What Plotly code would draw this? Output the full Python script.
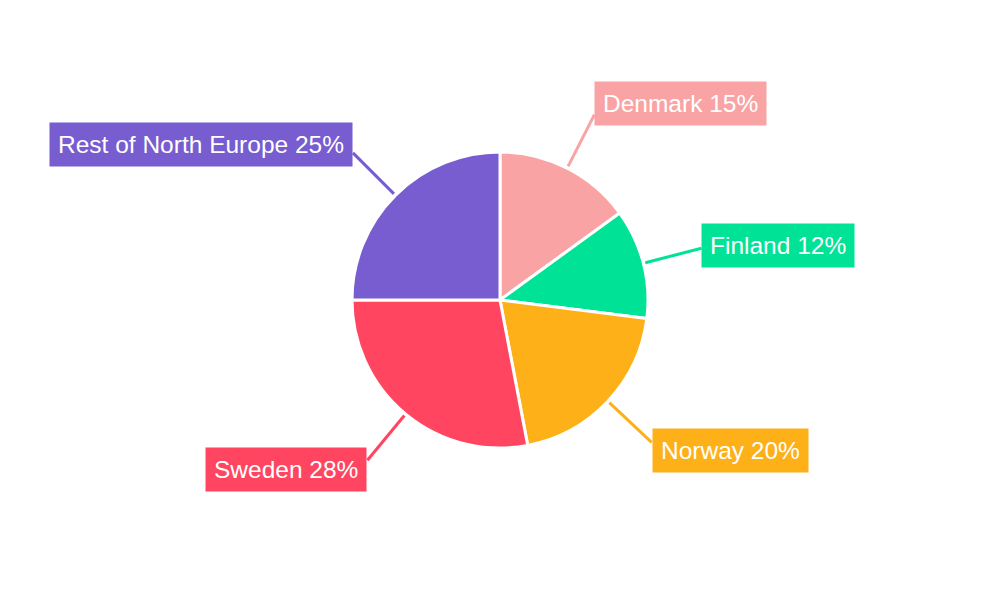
import math
import plotly.graph_objects as go

countries = ["Denmark", "Finland", "Norway", "Sweden", "Rest of North Europe"]
shares = [15, 12, 20, 28, 25]
colors = ["#F9A3A4", "#00E396", "#FEB019", "#FF4560", "#775DD0"]

W, H = 1000, 600
# page body has an 8px margin, so the centre is pulled back by that much
CX, CY, R = 492, 292, 148

fig = go.Figure(go.Pie(
    labels=countries, values=shares, sort=False, direction="clockwise", rotation=0,
    marker=dict(colors=colors, line=dict(color="white", width=3)),
    textinfo="none", hoverinfo="label+percent", showlegend=False,
    domain=dict(x=[(CX - R) / W, (CX + R) / W], y=[(H - CY - R) / H, (H - CY + R) / H]),
))

# leader lines + boxed labels, placed from the slice mid-angles
total = sum(shares)
cum = 0
shapes, annots = [], []
for name, v, c in zip(countries, shares, colors):
    mid = (cum + v / 2) / total * 2 * math.pi
    cum += v
    s, co = math.sin(mid), math.cos(mid)
    x0, y0 = CX + 150 * s, CY - 150 * co
    x1, y1 = CX + 208 * s, CY - 208 * co
    shapes.append(dict(type="line", xref="paper", yref="paper",
                       x0=x0 / W, y0=1 - y0 / H, x1=x1 / W, y1=1 - y1 / H,
                       line=dict(color=c, width=3), layer="below"))
    ly = CY - 220 * co
    annots.append(dict(xref="paper", yref="paper", x=x1 / W, y=1 - ly / H,
                       xanchor="left" if s > 0 else "right", yanchor="middle",
                       text=f"{name} {round(v / total * 100)}%", showarrow=False,
                       bgcolor=c, borderpad=8,
                       font=dict(color="white", size=24.5, family="Liberation Sans, Arial")))

fig.update_layout(width=W, height=H, margin=dict(l=0, r=0, t=0, b=0),
                  paper_bgcolor="white", plot_bgcolor="white",
                  shapes=shapes, annotations=annots)
fig.write_html("out.html")
